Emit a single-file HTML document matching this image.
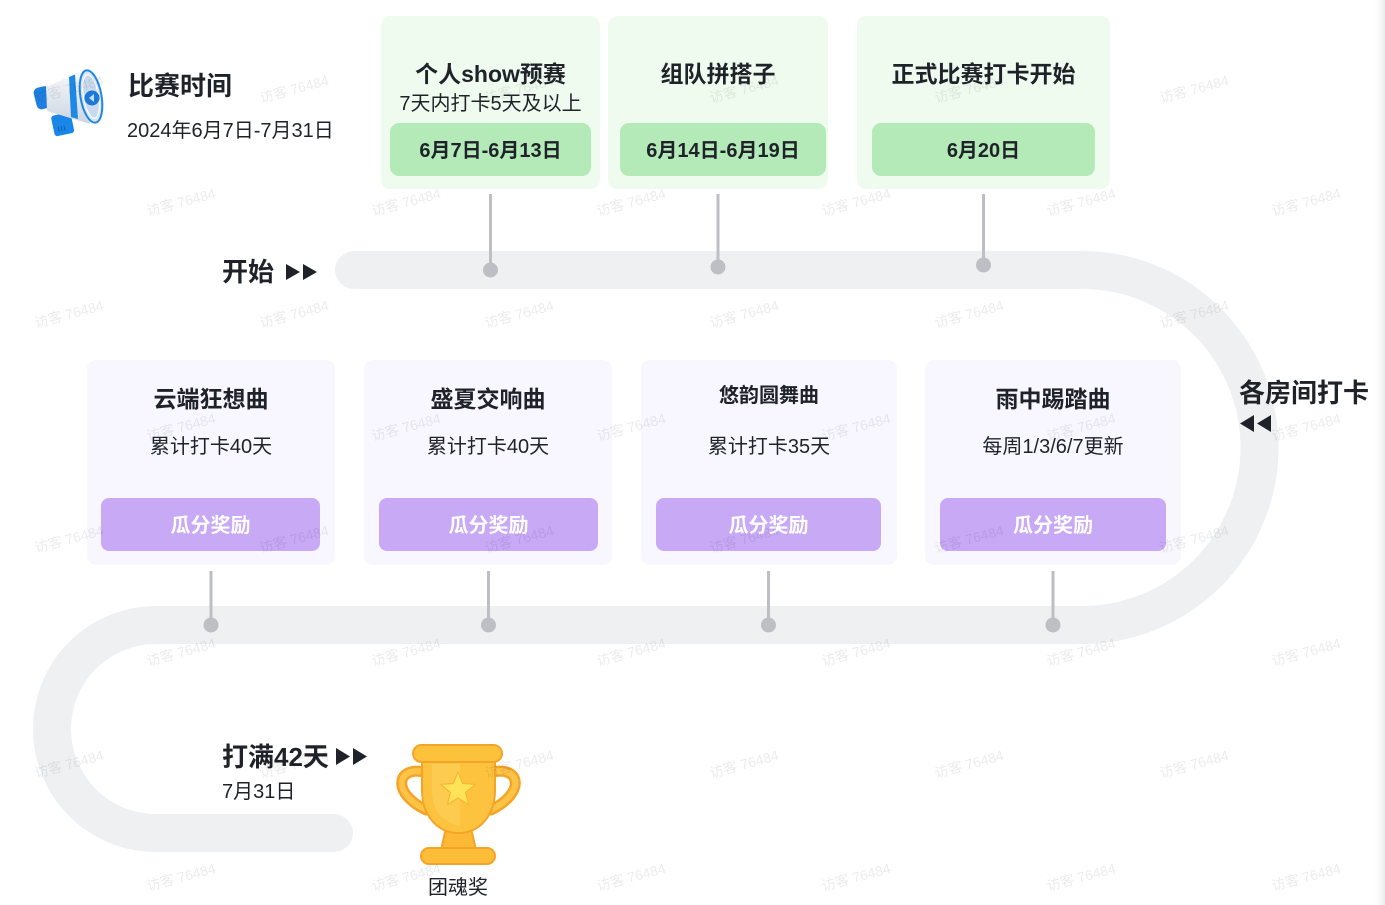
<!DOCTYPE html>
<html><head><meta charset="utf-8">
<style>
*{margin:0;padding:0;box-sizing:border-box}
html,body{width:1385px;height:905px;background:#fff;overflow:hidden}
body{position:relative;font-family:"Liberation Sans","Noto Sans CJK SC",sans-serif;color:#1f2329}
.abs{position:absolute}
.gcard{position:absolute;top:16px;height:173px;background:#f0fbf0;border-radius:9px}
.pcard{position:absolute;top:360px;height:205px;background:#f8f6ff;border-radius:9px}
.t{position:absolute;left:0;right:0;text-align:center;white-space:nowrap}
.title{font-size:23px;font-weight:bold;line-height:30px}
.sub{font-size:20px;line-height:26px}
.badge{position:absolute;top:107px;height:53px;padding-top:3px;line-height:50px;background:#b4eab8;border-radius:9px;text-align:center;font-size:20px;font-weight:bold;white-space:nowrap}
.btn{position:absolute;top:138px;height:53px;padding-top:3px;line-height:50px;background:#c8a9f6;border-radius:8px;text-align:center;font-size:20px;font-weight:bold;color:#fff;white-space:nowrap}
.big{font-size:26px;font-weight:bold;line-height:32px;white-space:nowrap}
.wm{position:absolute;width:80px;height:18px;font-size:14px;line-height:18px;color:rgba(0,0,0,0.08);transform:rotate(-15deg);white-space:nowrap;text-align:center}
</style></head><body>

<svg class="abs" style="left:0;top:0" width="1385" height="905">
  <defs>
    <linearGradient id="edge" x1="0" x2="1" y1="0" y2="0">
      <stop offset="0" stop-color="#ffffff" stop-opacity="0"/>
      <stop offset="1" stop-color="#ececec"/>
    </linearGradient>
    <linearGradient id="cone" x1="0" x2="0" y1="0" y2="1">
      <stop offset="0" stop-color="#f7f9fc"/>
      <stop offset="1" stop-color="#cdd6e2"/>
    </linearGradient>
  </defs>
  <rect x="1372" y="0" width="13" height="905" fill="url(#edge)"/>
  <path d="M354 270 H1082 A177.5 177.5 0 0 1 1082 625 H156 A104 104 0 0 0 156 833 H334" fill="none" stroke="#eff0f2" stroke-width="38" stroke-linecap="round"/>
  <g stroke="#bdbfc4" stroke-width="3">
    <line x1="490.5" y1="194" x2="490.5" y2="270"/>
    <line x1="718" y1="194" x2="718" y2="267"/>
    <line x1="983.5" y1="194" x2="983.5" y2="265"/>
    <line x1="211" y1="571" x2="211" y2="625"/>
    <line x1="488.5" y1="571" x2="488.5" y2="625"/>
    <line x1="768.5" y1="571" x2="768.5" y2="625"/>
    <line x1="1053" y1="571" x2="1053" y2="625"/>
  </g>
  <g fill="#bdbfc4">
    <circle cx="490.5" cy="270" r="7.5"/>
    <circle cx="718" cy="267" r="7.5"/>
    <circle cx="983.5" cy="265" r="7.5"/>
    <circle cx="211" cy="625" r="7.5"/>
    <circle cx="488.5" cy="625" r="7.5"/>
    <circle cx="768.5" cy="625" r="7.5"/>
    <circle cx="1053" cy="625" r="7.5"/>
  </g>
  <!-- arrows -->
  <g fill="#1f2329">
    <path d="M286 264 L300 272 L286 280 Z"/>
    <path d="M303 264 L317 272 L303 280 Z"/>
    <path d="M1254 415 L1240 423.5 L1254 432 Z"/>
    <path d="M1271 415 L1257 423.5 L1271 432 Z"/>
    <path d="M336 748 L350 756.5 L336 765 Z"/>
    <path d="M353 748 L367 756.5 L353 765 Z"/>
  </g>
  <!-- megaphone -->
  <g>
    <g transform="rotate(-12 62 126)">
      <rect x="53" y="114" width="20" height="21" rx="3" fill="#1a86e8"/>
      <line x1="58" y1="126" x2="58" y2="131" stroke="#0d5fb5" stroke-width="1"/>
      <line x1="61" y1="126" x2="61" y2="131" stroke="#0d5fb5" stroke-width="1"/>
      <line x1="64" y1="126" x2="64" y2="131" stroke="#0d5fb5" stroke-width="1"/>
    </g>
    <g transform="rotate(-14 42 98)">
      <rect x="35" y="87" width="16" height="22" rx="5" fill="#1e7fe0"/>
    </g>
    <path d="M46 87 L84 70 L90 124 L47 111 Z" fill="url(#cone)"/>
    <path d="M69 77 L75 74.5 L78 119 L71 117 Z" fill="#1e88e5"/>
    <ellipse cx="91" cy="96.5" rx="10.5" ry="26.5" transform="rotate(-10 91 96.5)" fill="#dbe6f3" stroke="#1e88e5" stroke-width="2"/>
    <ellipse cx="91" cy="96.5" rx="7.5" ry="22" transform="rotate(-10 91 96.5)" fill="#c9daee" stroke="#ffffff" stroke-width="1"/>
    <circle cx="92" cy="98" r="7.5" fill="#1e78d8"/>
    <path d="M89 98 L94 94 L94 102 Z" fill="#bfe0ff"/>
  </g>
  <!-- trophy -->
  <g stroke-linejoin="round">
    <path d="M424 772 C398 766 390 792 426 810" fill="none" stroke="#f6a427" stroke-width="11" stroke-linecap="round"/>
    <path d="M424 772 C398 766 390 792 426 810" fill="none" stroke="#fcc446" stroke-width="6" stroke-linecap="round"/>
    <path d="M493 772 C519 766 527 792 491 810" fill="none" stroke="#f6a427" stroke-width="11" stroke-linecap="round"/>
    <path d="M493 772 C519 766 527 792 491 810" fill="none" stroke="#fcc446" stroke-width="6" stroke-linecap="round"/>
    <path d="M446 828 H471 L476 850 H441 Z" fill="#fbb935" stroke="#f6a427" stroke-width="2"/>
    <path d="M422 760 H495 V790 C495 815 480 833 458.5 833 C437 833 422 815 422 790 Z" fill="#fdc33f" stroke="#f6a427" stroke-width="2"/>
    <path d="M432 764 H460 V826 C440 822 432 808 432 790 Z" fill="#fdd05a" opacity="0.6"/>
    <rect x="413" y="745" width="89" height="17" rx="8.5" fill="#fcc23c" stroke="#f6a427" stroke-width="2"/>
    <rect x="421" y="848" width="74" height="16" rx="8" fill="#fcbe38" stroke="#f6a427" stroke-width="2"/>
    <path d="M458 772 L462.7 783.5 L475.1 784.4 L465.6 792.5 L468.6 804.6 L458 798 L447.4 804.6 L450.4 792.5 L440.9 784.4 L453.3 783.5 Z" fill="#ffe45a" stroke="#f8b631" stroke-width="1.2"/>
  </g>
</svg>

<!-- header -->
<div class="abs big" style="left:128px;top:70px;">比赛时间</div>
<div class="abs" style="left:127px;top:118px;font-size:20px;line-height:26px;white-space:nowrap">2024年6月7日-7月31日</div>

<div class="abs big" style="left:222px;top:256px;">开始</div>
<div class="abs big" style="left:1239px;top:377px;">各房间打卡</div>
<div class="abs big" style="left:222px;top:741px;">打满42天</div>
<div class="abs" style="left:222px;top:779px;font-size:20px;line-height:26px;white-space:nowrap">7月31日</div>
<div class="abs" style="left:398px;top:875px;width:120px;text-align:center;font-size:20px;line-height:26px">团魂奖</div>

<!-- top green cards -->
<div class="gcard" style="left:381px;width:219px">
  <div class="t title" style="top:43px">个人show预赛</div>
  <div class="t sub" style="top:75px">7天内打卡5天及以上</div>
  <div class="badge" style="left:9px;right:9px">6月7日-6月13日</div>
</div>
<div class="gcard" style="left:608px;width:220px">
  <div class="t title" style="top:43px">组队拼搭子</div>
  <div class="badge" style="left:12px;right:2px">6月14日-6月19日</div>
</div>
<div class="gcard" style="left:857px;width:253px">
  <div class="t title" style="top:43px">正式比赛打卡开始</div>
  <div class="badge" style="left:15px;right:15px">6月20日</div>
</div>

<!-- purple cards -->
<div class="pcard" style="left:87px;width:248px">
  <div class="t title" style="top:24px">云端狂想曲</div>
  <div class="t sub" style="top:74px">累计打卡40天</div>
  <div class="btn" style="left:14px;right:15px">瓜分奖励</div>
</div>
<div class="pcard" style="left:364px;width:248px">
  <div class="t title" style="top:24px">盛夏交响曲</div>
  <div class="t sub" style="top:74px">累计打卡40天</div>
  <div class="btn" style="left:15px;right:14px">瓜分奖励</div>
</div>
<div class="pcard" style="left:641px;width:256px">
  <div class="t" style="top:23px;font-size:20px;font-weight:bold;line-height:26px">悠韵圆舞曲</div>
  <div class="t sub" style="top:74px">累计打卡35天</div>
  <div class="btn" style="left:15px;right:16px">瓜分奖励</div>
</div>
<div class="pcard" style="left:925px;width:256px">
  <div class="t title" style="top:24px">雨中踢踏曲</div>
  <div class="t sub" style="top:74px">每周1/3/6/7更新</div>
  <div class="btn" style="left:15px;right:15px">瓜分奖励</div>
</div>

<!-- watermarks -->
<div class="wm" style="left:29px;top:80px">访客 76484</div>
<div class="wm" style="left:254px;top:80px">访客 76484</div>
<div class="wm" style="left:479px;top:80px">访客 76484</div>
<div class="wm" style="left:704px;top:80px">访客 76484</div>
<div class="wm" style="left:929px;top:80px">访客 76484</div>
<div class="wm" style="left:1154px;top:80px">访客 76484</div>

<div class="wm" style="left:141px;top:193px">访客 76484</div>
<div class="wm" style="left:366px;top:193px">访客 76484</div>
<div class="wm" style="left:591px;top:193px">访客 76484</div>
<div class="wm" style="left:816px;top:193px">访客 76484</div>
<div class="wm" style="left:1041px;top:193px">访客 76484</div>
<div class="wm" style="left:1266px;top:193px">访客 76484</div>

<div class="wm" style="left:29px;top:305px">访客 76484</div>
<div class="wm" style="left:254px;top:305px">访客 76484</div>
<div class="wm" style="left:479px;top:305px">访客 76484</div>
<div class="wm" style="left:704px;top:305px">访客 76484</div>
<div class="wm" style="left:929px;top:305px">访客 76484</div>
<div class="wm" style="left:1154px;top:305px">访客 76484</div>

<div class="wm" style="left:141px;top:418px">访客 76484</div>
<div class="wm" style="left:366px;top:418px">访客 76484</div>
<div class="wm" style="left:591px;top:418px">访客 76484</div>
<div class="wm" style="left:816px;top:418px">访客 76484</div>
<div class="wm" style="left:1041px;top:418px">访客 76484</div>
<div class="wm" style="left:1266px;top:418px">访客 76484</div>

<div class="wm" style="left:29px;top:530px">访客 76484</div>
<div class="wm" style="left:254px;top:530px">访客 76484</div>
<div class="wm" style="left:479px;top:530px">访客 76484</div>
<div class="wm" style="left:704px;top:530px">访客 76484</div>
<div class="wm" style="left:929px;top:530px">访客 76484</div>
<div class="wm" style="left:1154px;top:530px">访客 76484</div>

<div class="wm" style="left:141px;top:643px">访客 76484</div>
<div class="wm" style="left:366px;top:643px">访客 76484</div>
<div class="wm" style="left:591px;top:643px">访客 76484</div>
<div class="wm" style="left:816px;top:643px">访客 76484</div>
<div class="wm" style="left:1041px;top:643px">访客 76484</div>
<div class="wm" style="left:1266px;top:643px">访客 76484</div>

<div class="wm" style="left:29px;top:755px">访客 76484</div>
<div class="wm" style="left:254px;top:755px">访客 76484</div>
<div class="wm" style="left:479px;top:755px">访客 76484</div>
<div class="wm" style="left:704px;top:755px">访客 76484</div>
<div class="wm" style="left:929px;top:755px">访客 76484</div>
<div class="wm" style="left:1154px;top:755px">访客 76484</div>

<div class="wm" style="left:141px;top:868px">访客 76484</div>
<div class="wm" style="left:366px;top:868px">访客 76484</div>
<div class="wm" style="left:591px;top:868px">访客 76484</div>
<div class="wm" style="left:816px;top:868px">访客 76484</div>
<div class="wm" style="left:1041px;top:868px">访客 76484</div>
<div class="wm" style="left:1266px;top:868px">访客 76484</div>

</body></html>
